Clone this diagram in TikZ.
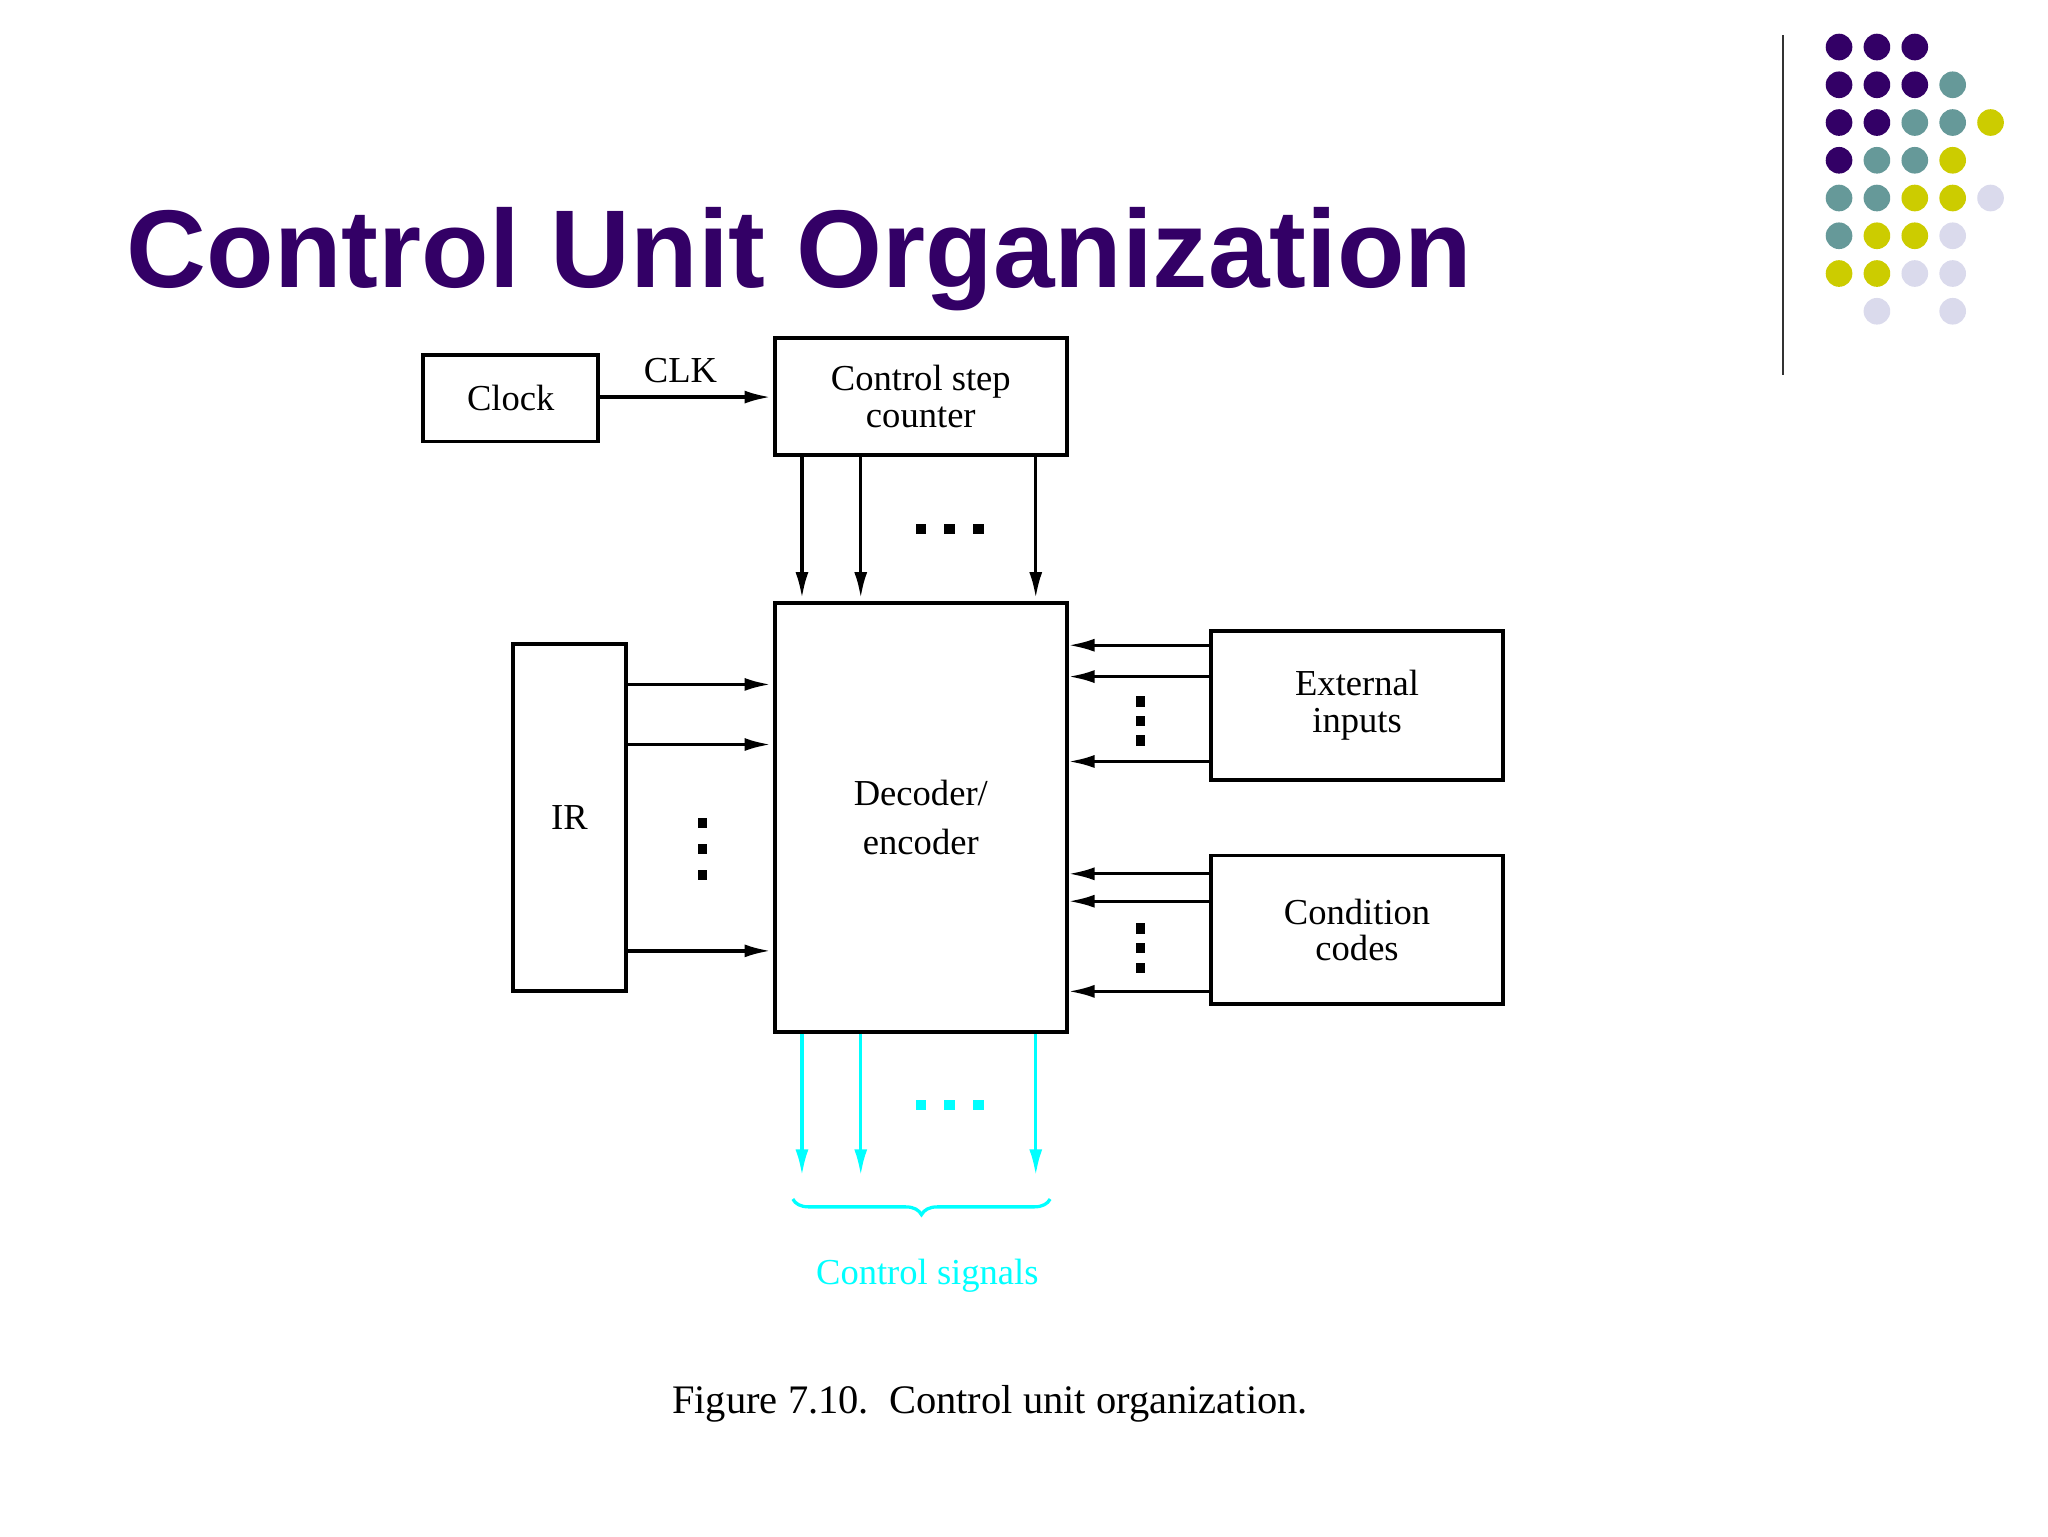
\documentclass[tikz,border=0pt]{standalone}
\usepackage{fontspec}
\setmainfont{Liberation Serif}
\newfontfamily\titlefont{Liberation Sans}
\usetikzlibrary{arrows.meta,decorations.pathreplacing}
\definecolor{dP}{HTML}{330066}
\definecolor{dT}{HTML}{669999}
\definecolor{dY}{HTML}{CCCC00}
\definecolor{dL}{HTML}{DADAEC}
\definecolor{dN}{HTML}{FFFFFF}
\definecolor{sig}{HTML}{00FFFF}
\begin{document}
\begin{tikzpicture}[x=1pt,y=-1pt,
  blk/.style={draw,line width=3pt,inner sep=0pt},
  arr/.style={line width=2.5pt,-{Latex[length=20pt,width=10pt]}},
  txt/.style={font=\fontsize{28}{32}\selectfont,align=center},
  dt/.style={fill,minimum width=0pt,inner sep=0pt}]
\useasboundingbox (0,0) rectangle (1568,1176);
% dots
\foreach \r/\row in {0/{P,P,P,N,N},1/{P,P,P,T,N},2/{P,P,T,T,Y},3/{P,T,T,Y,N},4/{T,T,Y,Y,L},5/{T,Y,Y,L,N},6/{Y,Y,L,L,N},7/{N,L,N,L,N}}{
  \foreach \c [count=\i from 0] in \row {
    \fill[d\c] (1408+\i*29,36+\r*28.9) circle (10.2);
  }}
\draw[line width=2pt,black!80] (1365,27) -- (1365,287);
\node[anchor=base west,inner sep=0pt,text=dP] (title) at (97,220) {\resizebox{1030pt}{!}{\titlefont\bfseries\fontsize{90}{96}\selectfont Control Unit Organization}};
% boxes
\node[blk,minimum width=134pt,minimum height=66pt,txt] (clock) at (391,305) {Clock};
\node[blk,minimum width=224pt,minimum height=89pt,txt] (csc) at (705,303.5) {Control step\\[-4pt]counter};
\node[blk,minimum width=224pt,minimum height=328pt,txt] (dec) at (705,626) {Decoder/\\[6pt]encoder};
\node[blk,minimum width=86pt,minimum height=266pt,txt] (ir) at (436,626) {IR};
\node[blk,minimum width=224pt,minimum height=114pt,txt] (ext) at (1039,540) {External\\[-4pt]inputs};
\node[blk,minimum width=224pt,minimum height=114pt,txt] (cc) at (1039,712) {Condition\\[-4pt]codes};
% clock
\draw[arr] (clock.east |- 0,304) -- (590,304);
\node[txt] (clk) at (521,284) {CLK};
% counter to decoder
\foreach \x in {614,659,793} \draw[arr] (\x,0 |- csc.south) -- (\x,458);
\foreach \x in {705,727,749} \node[dt,minimum width=8pt,minimum height=7pt] at (\x,405) {};
% IR
\foreach \y in {524,570,728} \draw[arr] (ir.east |- 0,\y) -- (590,\y);
\foreach \y in {630,650,670} \node[dt,minimum width=7pt,minimum height=8pt] at (538,\y) {};
% ext
\foreach \y in {494,518,583} \draw[arr] (ext.west |- 0,\y) -- (818,\y);
\foreach \y in {537,552,567} \node[dt,minimum width=7pt,minimum height=8pt] at (873,\y) {};
\foreach \y in {669,690,759} \draw[arr] (cc.west |- 0,\y) -- (818,\y);
\foreach \y in {711,726,741} \node[dt,minimum width=7pt,minimum height=8pt] at (873,\y) {};
% outputs
\foreach \x in {614,659,793} \draw[arr,sig] (\x,0 |- dec.south) -- (\x,900);
\foreach \x in {705,727,749} \node[dt,sig,minimum width=8pt,minimum height=7pt] at (\x,846) {};
\draw[sig,line width=2.5pt,decorate,decoration={brace,mirror,amplitude=12pt}] (607,918) -- (804,918);
\node[txt,text=sig] (cs) at (710,977) {Control signals};
\node[font=\fontsize{31}{34}\selectfont] (cap) at (758,1075) {Figure 7.10.\ \ Control unit organization.};
\end{tikzpicture}
\end{document}
